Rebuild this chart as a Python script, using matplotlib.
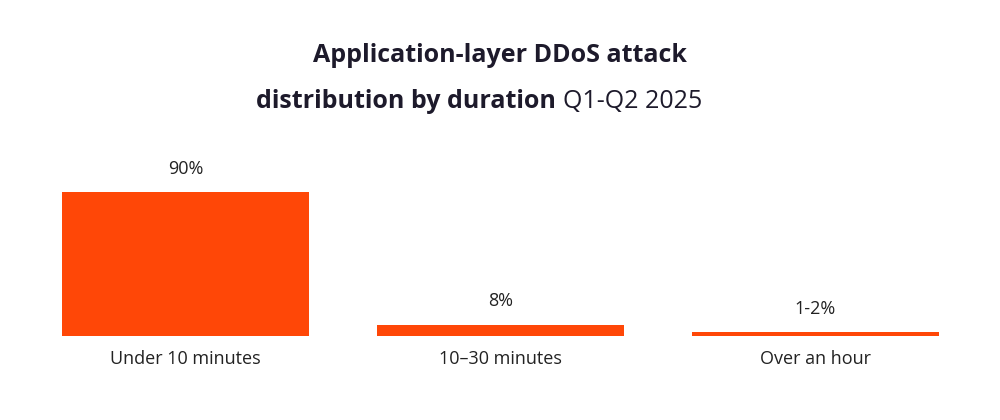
import matplotlib.pyplot as plt

categories = ['Under 10 minutes', '10\u201330 minutes', 'Over an hour']
values = [90, 7, 2.5]
value_labels = ['90%', '8%', '1-2%']

plt.rcParams['font.family'] = ['Open Sans', 'DejaVu Sans']

fig = plt.figure(figsize=(10, 4.2), dpi=100)
ax = fig.add_axes([0.028, 0.2, 0.945, 0.38])
x = range(len(categories))
ax.bar(x, values, width=0.785, color='#FF4707')
for i, (v, lab) in enumerate(zip(values, value_labels)):
    ax.text(i, v + 9, lab, ha='center', va='bottom', fontsize=13, color='#222222')
ax.set_xlim(-0.5, len(categories) - 0.5)
ax.set_ylim(0, 100)
ax.set_xticks(list(x))
ax.set_xticklabels(categories, fontsize=13, color='#222222')
ax.tick_params(axis='x', length=0, pad=10)
ax.set_yticks([])
for s in ax.spines.values():
    s.set_visible(False)

title_color = '#1d1a2b'
fig.text(0.5, 1 - 55 / 420, 'Application-layer DDoS attack', ha='center', va='center',
         fontsize=18, fontweight='bold', color=title_color)
fig.text(0.556, 1 - 102 / 420, 'distribution by duration', ha='right', va='center',
         fontsize=18, fontweight='bold', color=title_color)
fig.text(0.563, 1 - 102 / 420, 'Q1-Q2 2025', ha='left', va='center',
         fontsize=18, color=title_color)

fig.savefig('out.png', dpi=100, facecolor='white')
